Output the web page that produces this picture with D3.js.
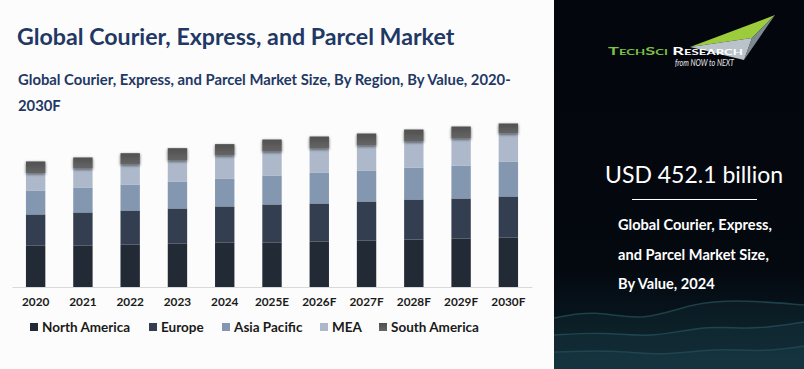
<!DOCTYPE html>
<html>
<head>
<meta charset="utf-8">
<script src="https://cdn.jsdelivr.net/npm/d3@7"></script>
<style>
body { margin: 0; background: #fcfcfc; }
svg { display: block; }
text { font-family: Lato, "Noto Sans", sans-serif; }
</style>
</head>
<body>
<div id="chart"></div>
<script>
// donnees (USD milliards)
var annees = ['2020','2021','2022','2023','2024','2025E','2026F','2027F','2028F','2029F','2030F'];
var ameriqueNord = [131.8,131.8,134.9,138.1,141.3,141.3,144.4,147.6,150.7,153.9,157.1];
var europe      = [98.0,104.3,107.4,110.6,113.8,120.1,120.1,123.2,126.4,126.4,129.6];
var asiePacific = [75.8,79.0,82.2,85.3,88.5,91.6,98.0,98.0,101.1,104.3,110.6];
var mea         = [54.7,60.0,63.2,66.4,72.7,75.8,75.8,79.0,82.2,85.3,88.5];
var ameriqueSud = [37.0,34.8,35.7,38.9,35.8,37.9,37.9,37.9,37.9,37.9,31.6];
var regions = ['North America','Europe','Asia Pacific','MEA','South America'];
var couleurs = ['#222a35','#333f50','#8497b0','#adb9ca','#595959'];

var W = 804, H = 369;
var svg = d3.select('#chart').append('svg').attr('width', W).attr('height', H);

var defs = svg.append('defs');
var ombre = defs.append('filter').attr('id','ombre').attr('x','-30%').attr('y','-40%').attr('width','160%').attr('height','180%');
ombre.append('feGaussianBlur').attr('in','SourceAlpha').attr('stdDeviation',1.5).attr('result','b');
ombre.append('feOffset').attr('in','b').attr('dy',0.5).attr('result','o');
ombre.append('feComponentTransfer').attr('in','o').attr('result','o2')
    .append('feFuncA').attr('type','linear').attr('slope',0.6);
var fm = ombre.append('feMerge');
fm.append('feMergeNode').attr('in','o2');
fm.append('feMergeNode').attr('in','SourceGraphic');

var gradGris = defs.append('linearGradient').attr('id','gradGris').attr('x1',0).attr('y1',0).attr('x2',0).attr('y2',1);
gradGris.append('stop').attr('offset','0%').attr('stop-color','#505050');
gradGris.append('stop').attr('offset','100%').attr('stop-color','#666666');

svg.append('rect').attr('width', 554).attr('height', H).attr('fill', '#fcfcfc');

// titres
svg.append('text').attr('x', 17).attr('y', 45).attr('fill', '#1f3864')
    .attr('font-size', 23.2).attr('font-weight', 'bold')
    .text('Global Courier, Express, and Parcel Market');
svg.append('text').attr('x', 18).attr('y', 85).attr('fill', '#1f3864')
    .attr('font-size', 14.8).attr('font-weight', 'bold')
    .text('Global Courier, Express, and Parcel Market Size, By Region, By Value, 2020-');
svg.append('text').attr('x', 18).attr('y', 111).attr('fill', '#1f3864')
    .attr('font-size', 14.8).attr('font-weight', 'bold')
    .text('2030F');

// barres empilees
var lignes = annees.map(function(a, i) {
    return {annee: a, 'North America': ameriqueNord[i], 'Europe': europe[i],
            'Asia Pacific': asiePacific[i], 'MEA': mea[i], 'South America': ameriqueSud[i]};
});
var series = d3.stack().keys(regions)(lignes);

var x = d3.scaleBand().domain(annees).range([12, 532]).paddingInner(0.59).paddingOuter(0.295);
var y = d3.scaleLinear().domain([0, 500]).range([287, 129]);

var g = svg.append('g');
series.forEach(function(s, k) {
    g.append('g').attr('fill', k == 4 ? 'url(#gradGris)' : couleurs[k])
        .attr('filter', k == 4 ? 'url(#ombre)' : null)
        .selectAll('rect').data(s).enter().append('rect')
        .attr('x', function(d) { return x(d.data.annee); })
        .attr('y', function(d) { return y(d[1]); })
        .attr('width', x.bandwidth())
        .attr('height', function(d) { return y(d[0]) - y(d[1]); });
});

var axe = svg.append('g').attr('transform', 'translate(0,' + y(0) + ')')
    .call(d3.axisBottom(x).tickSize(0).tickPadding(11));
axe.select('.domain').attr('stroke', '#d9d9d9').attr('stroke-width', 1.2);
axe.selectAll('text').attr('font-family', 'Lato, sans-serif').attr('font-size', 11.8)
    .attr('font-weight', 'bold').attr('fill', '#1a1a1a');

// legende
var legX = [30, 149, 222, 320, 379];
var leg = svg.append('g').selectAll('g').data(regions).enter().append('g')
    .attr('transform', function(d, i) { return 'translate(' + legX[i] + ',323)'; });
leg.append('rect').attr('width', 8).attr('height', 8)
    .attr('fill', function(d, i) { return i == 4 ? 'url(#gradGris)' : couleurs[i]; });
leg.append('text').attr('x', 12).attr('y', 8.5).attr('font-size', 13.5).attr('font-weight', 'bold')
    .attr('fill', '#1a1a1a').text(function(d) { return d; });

// panneau de droite
var fond = defs.append('linearGradient').attr('id','fond').attr('x1',0).attr('y1',0).attr('x2',0).attr('y2',1);
fond.append('stop').attr('offset','0%').attr('stop-color','#03060c');
fond.append('stop').attr('offset','72%').attr('stop-color','#04080f');
fond.append('stop').attr('offset','100%').attr('stop-color','#0a2029');
var px = 554;
svg.append('rect').attr('x', px).attr('width', W - px).attr('height', H).attr('fill', 'url(#fond)');

// vagues
var vague = d3.line().curve(d3.curveBasis);
var vagues = [
    {pts: [[0,318],[40,310],[90,322],[140,302],[190,300],[250,305]], c: '#16343d', o: 0.6},
    {pts: [[0,335],[50,332],[100,338],[150,325],[200,330],[250,322]], c: '#1b3d48', o: 0.6},
    {pts: [[0,352],[60,350],[110,356],[160,348],[210,352],[250,346]], c: '#1e4552', o: 0.5}
];
vagues.forEach(function(v) {
    var p = v.pts.map(function(q) { return [px + q[0], q[1]]; });
    svg.append('path').attr('d', vague(p) + 'L' + (px + 250) + ',' + H + 'L' + px + ',' + H + 'Z')
        .attr('fill', v.c).attr('opacity', 0.3);
    svg.append('path').attr('d', vague(p)).attr('fill', 'none')
        .attr('stroke', '#2b5b66').attr('stroke-width', 1.5).attr('opacity', v.o);
});

// logo
svg.append('polygon').attr('points', '690,47 775,15 752,38').attr('fill', '#9ccb3b');
svg.append('polygon').attr('points', '690,47 752,38 744,60').attr('fill', '#b9c3c9');
svg.append('polygon').attr('points', '752,38 775,15 744,60').attr('fill', '#7d8a92');
var logo = svg.append('text').attr('x', 608).attr('y', 55).attr('font-family', '"DejaVu Sans", sans-serif')
    .attr('font-size', 11).attr('font-weight', 'bold').attr('font-variant', 'small-caps')
    .attr('textLength', 135).attr('lengthAdjust', 'spacingAndGlyphs');
logo.append('tspan').attr('fill', '#7dc242').text('TechSci ');
logo.append('tspan').attr('fill', '#ffffff').text('Research');
svg.append('text').attr('x', 734).attr('y', 66).attr('text-anchor', 'end').attr('fill', '#e8e8e8')
    .attr('font-size', 9).attr('font-style', 'italic')
    .attr('textLength', 59).attr('lengthAdjust', 'spacingAndGlyphs').text('from NOW to NEXT');

svg.append('text').attr('x', 605).attr('y', 183).attr('fill', '#ffffff')
    .attr('font-size', 23).text('USD 452.1 billion');
svg.append('line').attr('x1', 632).attr('x2', 757).attr('y1', 199.5).attr('y2', 199.5)
    .attr('stroke', '#ffffff').attr('stroke-width', 1);
var bloc = ['Global Courier, Express,', 'and Parcel Market Size,', 'By Value, 2024'];
svg.append('g').selectAll('text').data(bloc).enter().append('text')
    .attr('x', 618).attr('y', function(d, i) { return 230 + i * 29.5; })
    .attr('fill', '#ffffff').attr('font-size', 14.6).attr('font-weight', 'bold')
    .text(function(d) { return d; });
</script>
</body>
</html>
